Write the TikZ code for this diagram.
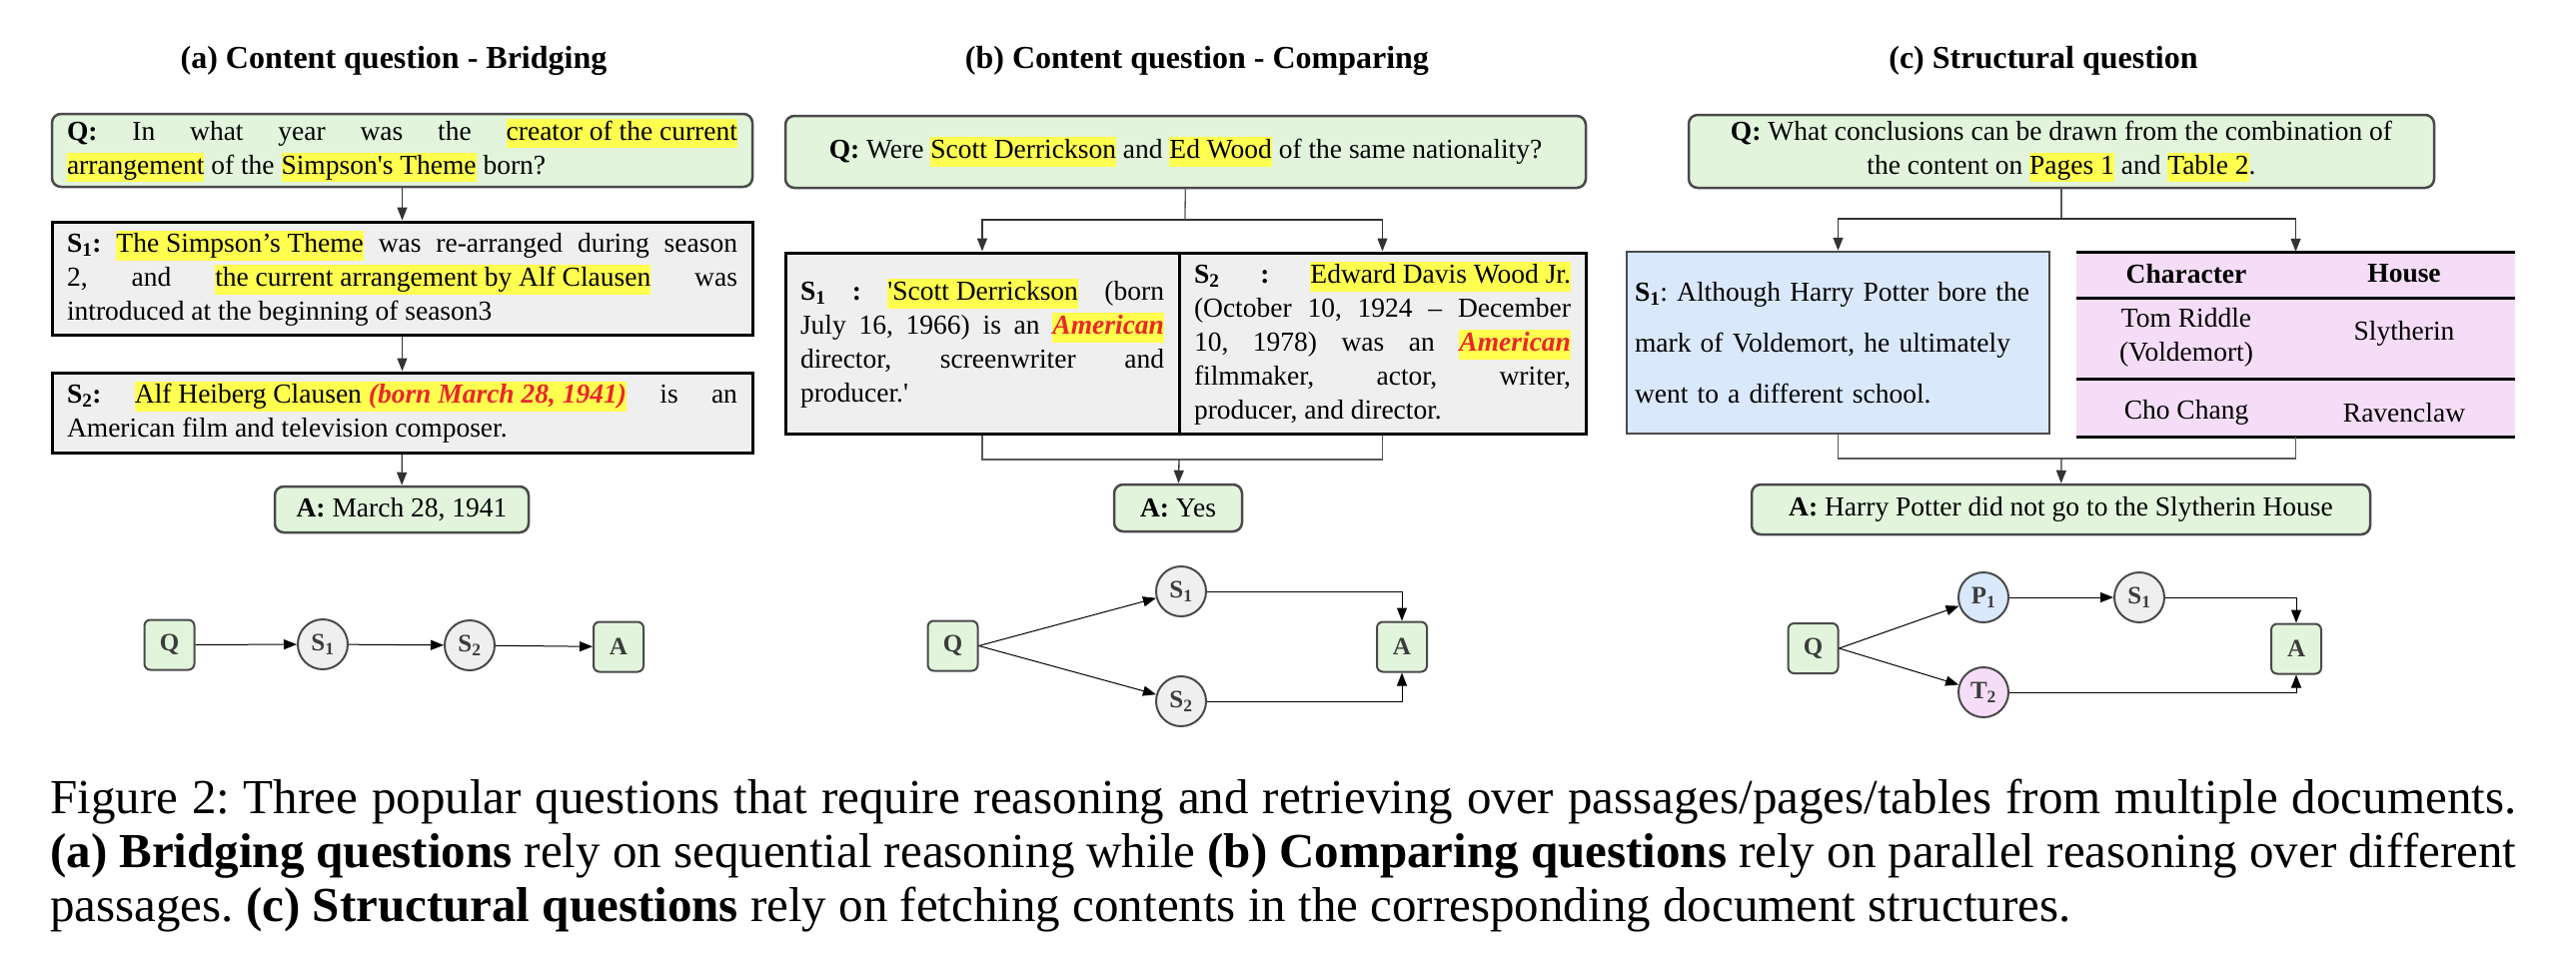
\documentclass[tikz,border=0pt]{standalone}
\usepackage{fontspec}
\setmainfont{Liberation Serif}
\usetikzlibrary{arrows.meta}
\definecolor{hly}{HTML}{FFFF4F}
\definecolor{gfill}{HTML}{E2F5DC}
\definecolor{sfill}{HTML}{EFEFEF}
\definecolor{bfill}{HTML}{DAE8FC}
\definecolor{pfill}{HTML}{F5DDF7}
\definecolor{bord}{HTML}{4A4A4A}
\definecolor{ared}{HTML}{E8282B}
\definecolor{gtxt}{HTML}{3C3C3C}
\newcommand{\hl}[1]{{\setlength{\fboxsep}{0pt}\colorbox{hly}{\rule[-0.3em]{0pt}{1.08em}#1}}}
\newcommand{\amr}[1]{{\color{ared}\bfseries\itshape\hl{#1}}}
\newcommand{\sub}[1]{\textsubscript{#1}}
\newcommand{\sq}{\textquotesingle}
\frenchspacing
\begin{document}
\begin{tikzpicture}[x=1pt,y=-1pt,
  every node/.style={font=\fontsize{27.5}{34}\selectfont},
  ttl/.style={font=\fontsize{32}{36}\selectfont\bfseries},
  qbox/.style={draw=bord,line width=2.5pt,fill=gfill,rounded corners=9pt,inner xsep=15pt,inner ysep=0pt},
  sbox/.style={draw=black,line width=3pt,fill=sfill,inner xsep=15pt,inner ysep=0pt,align=justify},
  arr/.style={line width=1.3pt,draw=black!80,-{Triangle[length=13pt,width=10pt]}},
  ln/.style={line width=1.3pt,draw=black!65},
  gsq/.style={draw=bord,line width=2pt,fill=gfill,rounded corners=6pt,minimum size=50pt,inner sep=0pt,font=\fontsize{25}{28}\selectfont\bfseries\color{gtxt}},
  gci/.style={circle,draw=bord,line width=2pt,fill=sfill,minimum size=50pt,inner sep=0pt,font=\fontsize{25}{28}\selectfont\bfseries\color{gtxt}},
  garr/.style={line width=1pt,-{Triangle[length=13pt,width=10pt]}}
]
\useasboundingbox (0,0) rectangle (2578,974);

% titles
\node[ttl] (ta) at (394,61) {(a) Content question - Bridging};
\node[ttl] (tb) at (1198,61) {(b) Content question - Comparing};
\node[ttl] (tc) at (2045,61) {(c) Structural question};

% ---------- panel a
\node[qbox,text width=671pt,minimum height=73pt,align=justify] (qa) at (402.5,150.5)
 {\textbf{Q:} In what year was the \hl{creator of the current}\linebreak \hl{arrangement} of the \hl{Simpson\sq s Theme} born?};
\node[sbox,text width=671pt,minimum height=113pt] (s1a) at (402.5,278.5)
 {\textbf{S\sub{1}:} \hl{The Simpson’s Theme} was re-arranged during season\linebreak 2, and \hl{the current arrangement by Alf Clausen} was\linebreak introduced at the beginning of season3};
\node[sbox,text width=671pt,minimum height=80pt] (s2a) at (402.5,413)
 {\textbf{S\sub{2}:} \hl{Alf Heiberg Clausen \amr{(born March 28, 1941)}} is an\linebreak American film and television composer.};
\node[qbox,minimum width=254pt,minimum height=46pt] (aa) at (402,510) {\textbf{A:} March 28, 1941};
\draw[arr] (qa) -- (s1a);
\draw[arr] (s1a) -- (s2a);
\draw[arr] (s2a) -- (aa);

\node[gsq] (gqa) at (169.5,645.5) {Q};
\node[gci] (gs1a) at (323,645) {S\sub{1}};
\node[gci] (gs2a) at (470,646) {S\sub{2}};
\node[gsq] (gaa) at (619,647.5) {A};
\draw[garr] (gqa) -- (gs1a);
\draw[garr] (gs1a) -- (gs2a);
\draw[garr] (gs2a) -- (gaa);

% ---------- panel b
\node[qbox,minimum width=801pt,minimum height=72pt] (qb) at (1186.5,152)
 {\textbf{Q:} Were \hl{Scott Derrickson} and \hl{Ed Wood} of the same nationality?};
\node[sbox,text width=364pt,minimum height=181pt] (s1b) at (983,343.5)
 {\textbf{S\sub{1} :} \hl{\sq Scott Derrickson} (born\linebreak July 16, 1966) is an \amr{American}\linebreak director, screenwriter and\linebreak producer.\sq};
\node[sbox,text width=377pt,minimum height=181pt] (s2b) at (1383.5,343.5)
 {\textbf{S\sub{2} :} \hl{Edward Davis Wood Jr.}\linebreak (October 10, 1924 – December\linebreak 10, 1978) was an \amr{American}\linebreak filmmaker, actor, writer,\linebreak producer, and director.};
\node[qbox,minimum width=128pt,minimum height=47pt] (ab) at (1179,508.5) {\textbf{A:} Yes};
\coordinate (jb) at (1186,220);
\coordinate (kb) at (1180,460);
\draw[ln] (qb) -- (jb);
\draw[arr] (jb) -| (s1b);
\draw[arr] (jb) -| (s2b);
\draw[ln] (s1b) |- (kb);
\draw[ln] (s2b) |- (kb);
\draw[arr] (kb) -- (ab);

\node[gsq] (gqb) at (953.5,646.5) {Q};
\node[gci] (gs1b) at (1182,592) {S\sub{1}};
\node[gci] (gs2b) at (1182,702) {S\sub{2}};
\node[gsq] (gab) at (1403,647.5) {A};
\draw[garr] (gqb.east) -- (gs1b);
\draw[garr] (gqb.east) -- (gs2b);
\draw[garr] (gs1b) -| (gab);
\draw[garr] (gs2b) -| (gab);

% ---------- panel c
\node[qbox,minimum width=746pt,minimum height=73pt,align=center] (qc) at (2063,151.5)
 {\textbf{Q:} What conclusions can be drawn from the combination of\\ the content on \hl{Pages 1} and \hl{Table 2}.};
\node[draw=bord,line width=2.5pt,fill=bfill,text width=407pt,minimum height=182pt,inner xsep=8pt,inner ysep=0pt,align=left,font=\fontsize{27.5}{51}\selectfont] (s1c) at (1839.5,343)
 {\textbf{S\sub{1}}: Although Harry Potter bore the\\ mark of Voldemort, he ultimately\\ went to a different school.};
\node[fill=pfill,minimum width=439pt,minimum height=185pt,inner sep=0pt] (tab) at (2297.5,344.5) {};
\draw[line width=3pt] (2078,252) -- (2517,252);
\draw[line width=3pt] (2078,298) -- (2517,298);
\draw[line width=3pt] (2078,379) -- (2517,379);
\draw[line width=3pt] (2078,437) -- (2517,437);
\node[font=\fontsize{27.5}{34}\selectfont\bfseries] (h1) at (2188,274) {Character};
\node[font=\fontsize{27.5}{34}\selectfont\bfseries] (h2) at (2406,274) {House};
\node[align=center] (c11) at (2188,338) {Tom Riddle\\(Voldemort)};
\node (c12) at (2406,334) {Slytherin};
\node (c21) at (2188,413) {Cho Chang};
\node (c22) at (2406,413) {Ravenclaw};
\node[qbox,minimum width=619pt,minimum height=50pt] (ac) at (2062.5,510)
 {\textbf{A:} Harry Potter did not go to the Slytherin House};
\coordinate (jc) at (2063,219);
\coordinate (kc) at (2063,459);
\draw[ln] (qc) -- (jc);
\draw[arr] (jc) -| (s1c);
\draw[arr] (jc) -| (tab);
\draw[ln] (s1c) |- (kc);
\draw[ln] (tab.south) |- (kc);
\draw[arr] (kc) -- (ac);

\node[gsq] (gqc) at (1814.5,649) {Q};
\node[gci,fill=bfill] (gp1c) at (1985,598) {P\sub{1}};
\node[gci] (gs1c) at (2141,598) {S\sub{1}};
\node[gci,fill=pfill] (gt2c) at (1985,693) {T\sub{2}};
\node[gsq] (gac) at (2298,649.5) {A};
\draw[garr] (gqc.east) -- (gp1c);
\draw[garr] (gqc.east) -- (gt2c);
\draw[garr] (gp1c) -- (gs1c);
\draw[garr] (gs1c) -| (gac);
\draw[garr] (gt2c) -| (gac);

% caption
\node[anchor=north west,inner sep=0pt,text width=2468pt,align=justify,font=\fontsize{49}{54}\selectfont] (cap) at (50,780)
 {Figure 2: Three popular questions that require reasoning and retrieving over passages/pages/tables from multiple documents.\linebreak \textbf{(a) Bridging questions} rely on sequential reasoning while \textbf{(b) Comparing questions} rely on parallel reasoning over different\linebreak passages. \textbf{(c) Structural questions} rely on fetching contents in the corresponding document structures.};
\end{tikzpicture}
\end{document}
